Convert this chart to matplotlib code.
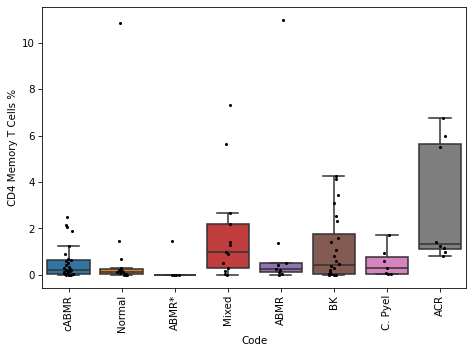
import numpy as np
import pandas as pd
import matplotlib
matplotlib.use("Agg")
import matplotlib.pyplot as plt
import seaborn as sns

codes = ["cABMR", "Normal", "ABMR*", "Mixed", "ABMR", "BK", "C. Pyel", "ACR"]

cabmr = [0, 0, 0, 0.01, 0.02, 0.03, 0.04, 0.05, 0.08, 0.1, 0.12, 0.15, 0.18, 0.2, 0.22,
         0.25, 0.3, 0.35, 0.4, 0.5, 0.58, 0.62, 0.7, 0.9, 1.25, 1.9, 2.05, 2.15, 2.5]
normal = [0, 0, 0, 0.02, 0.05, 0.08, 0.1, 0.12, 0.15, 0.2, 0.22, 0.27, 0.7, 1.45, 10.85]
abmr_star = [0, 0, 0, 0, 1.45]
mixed = [0, 0.02, 0.15, 0.27, 0.5, 0.9, 0.97, 1.3, 1.4, 2.18, 2.65, 5.65, 7.3]
abmr = [0, 0.05, 0.1, 0.2, 0.25, 0.4, 0.5, 1.35, 11.0]
bk = [0, 0, 0, 0, 0, 0.02, 0.05, 0.1, 0.15, 0.2, 0.3, 0.39, 0.45, 0.6, 0.8, 1.05,
      1.4, 1.6, 2.3, 2.55, 3.1, 3.45, 4.15, 4.28]
c_pyel = [0.02, 0.04, 0.06, 0.3, 0.6, 0.95, 1.7]
acr = [0.8, 1.0, 1.15, 1.25, 1.4, 5.5, 6.0, 6.75]

values = [cabmr, normal, abmr_star, mixed, abmr, bk, c_pyel, acr]
df = pd.DataFrame({
    "Code": np.repeat(codes, [len(v) for v in values]),
    "CD4 Memory T Cells %": np.concatenate(values),
})

np.random.seed(3)
fig, ax = plt.subplots(figsize=(6.4, 4.8), dpi=74)
sns.boxplot(data=df, x="Code", y="CD4 Memory T Cells %", hue="Code", order=codes,
            hue_order=codes, palette="tab10", showfliers=False, legend=False,
            linecolor=".2", linewidth=1.5, ax=ax)
sns.stripplot(data=df, x="Code", y="CD4 Memory T Cells %", order=codes,
              color="black", size=3, ax=ax)
ax.tick_params(axis="x", rotation=90)
fig.subplots_adjust(left=0.089, right=0.985, top=0.98, bottom=0.19)
fig.savefig("out.png", dpi=74)
